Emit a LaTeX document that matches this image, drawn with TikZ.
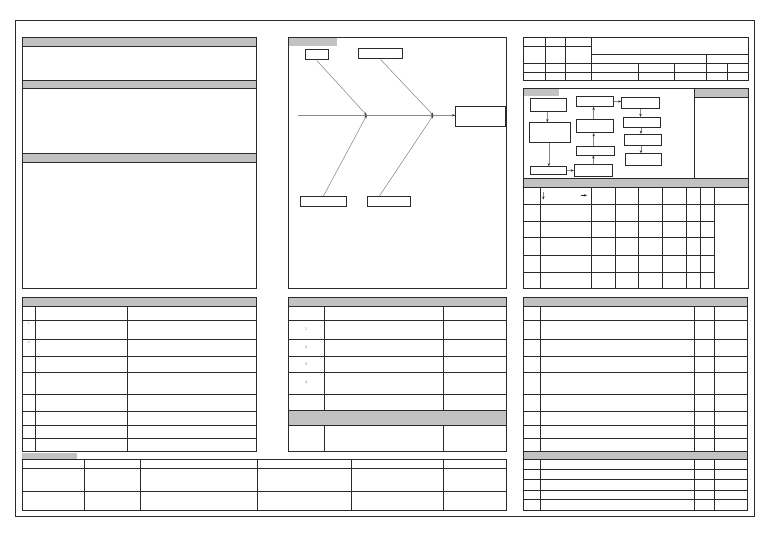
\documentclass[tikz,border=0pt]{standalone}
\usetikzlibrary{arrows.meta}
\definecolor{lin}{HTML}{2A2A2A}
\definecolor{hdrgray}{HTML}{C2C2C2}
\definecolor{fishline}{HTML}{8A8A8A}
\tikzset{
  frame/.style={draw=lin,line width=1pt},
  grid/.style={draw=lin,line width=0.85pt},
  hdr/.style={fill=hdrgray,draw=lin,line width=0.85pt},
  tab/.style={fill=hdrgray},
  fbox/.style={draw=lin,line width=1pt,inner sep=0pt,fill=white},
  fish/.style={draw=fishline,line width=0.55pt},
  tip/.style={-{Stealth[length=3pt,width=2.4pt,color=lin]}},
  num/.style={font=\fontsize{3.2}{3.2}\selectfont,text=gray,inner sep=0pt}
}
\newcommand{\bx}[5]{\node[fbox,minimum width={(#4-#2)*1pt},minimum height={(#5-#3)*1pt}] (#1) at ({(#2+#4)/2},{(#3+#5)/2}) {};}
\begin{document}
\begin{tikzpicture}[x=1pt,y=-1pt]
\useasboundingbox (0,0) rectangle (768,543);
\fill[white] (0,0) rectangle (768,543);
% outer frame
\draw[frame] (15.3,20.3) rectangle (754,516);

% ---------- left top panel ----------
\draw[hdr] (22.3,37.7) rectangle (256.7,46.7);
\draw[hdr] (22.3,80) rectangle (256.7,88.3);
\draw[hdr] (22.3,153.3) rectangle (256.7,162);
\draw[frame] (22.3,37.7) rectangle (256.7,288.3);

% ---------- fishbone panel ----------
\fill[tab] (288.3,37.3) rectangle (336.7,46);
\draw[frame] (288.3,37.3) rectangle (506,288.3);
\bx{tl}{305}{49.3}{328.7}{60}
\bx{tm}{358.7}{48.3}{402.3}{59}
\bx{bl}{300}{196.7}{346.7}{206.3}
\bx{bm}{367.7}{196.7}{410.3}{206.3}
\bx{eff}{455.7}{106.3}{505.3}{126.7}
\coordinate (s0) at (298.3,115.3);
\coordinate (j1) at (366.7,115.3);
\coordinate (j2) at (433.3,115.3);
\draw[fish,tip] (s0) -- (s0 -| eff.west);
\draw[fish,tip] (tl.south) -- (j1);
\draw[fish,tip] (bl.north) -- (j1);
\draw[fish,tip] (tm.south) -- (j2);
\draw[fish,tip] ([xshift=-9.7pt]bm.north) -- (j2);

% ---------- top right title table ----------
\draw[frame] (523.3,37.3) rectangle (748.3,80.3);
\draw[grid] (523.3,46.7) -- (591,46.7);
\draw[grid] (591,54.7) -- (748.3,54.7);
\draw[grid] (523.3,63) -- (748.3,63);
\draw[grid] (523.3,72) -- (748.3,72);
\foreach \x in {545.3,565,591} \draw[grid] (\x,37.3) -- (\x,80.3);
\foreach \x in {638.3,674.3,727} \draw[grid] (\x,63) -- (\x,80.3);
\draw[grid] (706.7,54.7) -- (706.7,80.3);

% ---------- process flow panel ----------
\fill[tab] (523.3,88.3) rectangle (558.7,96.3);
\draw[hdr] (694,88.3) rectangle (748.3,97.3);
\draw[frame] (523.3,88.3) rectangle (748.3,178.7);
\draw[grid] (694,88.3) -- (694,178.7);
\bx{A}{530}{98.3}{566.7}{111.3}
\bx{B}{529}{122.7}{570.7}{142.7}
\bx{C}{530}{166.7}{566.7}{174.3}
\bx{D}{574.3}{164.7}{612.3}{176}
\bx{E}{576.3}{146.7}{614}{155}
\bx{F}{576.3}{119.3}{613}{132.7}
\bx{G}{576.3}{96.7}{613}{106.3}
\bx{H}{621.7}{97.3}{659.3}{108.3}
\bx{I}{623}{117.3}{660.3}{127.7}
\bx{J}{624}{134.3}{661.3}{145.3}
\bx{K}{625}{153.7}{661.7}{165}
\draw[fish,tip] ([xshift=-1pt]A.south) -- ([xshift=-1pt]A.south |- B.north);
\draw[fish,tip] ([xshift=-1pt]B.south) -- ([xshift=-1pt]B.south |- C.north);
\draw[fish,tip] (C.east) -- (C.east -| D.west);
\draw[fish,tip] (D.north) -- (D.north |- E.south);
\draw[fish,tip] ([xshift=-1.5pt]E.north) -- ([xshift=-1.5pt]E.north |- F.south);
\draw[fish,tip] ([xshift=-1pt]F.north) -- ([xshift=-1pt]F.north |- G.south);
\draw[fish,tip] (G.east) -- (G.east -| H.west);
\draw[fish,tip] (H.south) -- (H.south |- I.north);
\draw[fish,tip] ([xshift=-0.7pt]I.south) -- ([xshift=-0.7pt]I.south |- J.north);
\draw[fish,tip] ([xshift=-1.7pt]J.south) -- ([xshift=-1.7pt]J.south |- K.north);

% ---------- right middle table ----------
\draw[hdr] (523.3,178.7) rectangle (748.3,187);
\draw[frame] (523.3,178.7) rectangle (748.3,288.3);
\draw[grid] (523.3,204.3) -- (748.3,204.3);
\foreach \y in {221,237.7,255,272.3} \draw[grid] (523.3,\y) -- (714,\y);
\foreach \x in {540.3,591,615,638.3,662.7,686.7,700,714} \draw[grid] (\x,187) -- (\x,288.3);
\coordinate (da) at (543.3,191.7); \coordinate (db) at (543.3,199.5);
\coordinate (ra) at (580.5,195.3); \coordinate (rb) at (587,195.3);
\draw[fish,tip] (da) -- (db);
\draw[draw=lin,line width=0.5pt,tip] (ra) -- (rb);

% ---------- lower left table ----------
\draw[hdr] (22.3,297) rectangle (256.7,306.7);
\draw[frame] (22.3,297) rectangle (256.7,451.3);
\foreach \y in {320.3,339.3,356.7,372.7,394,411.3,425.3,438.3} \draw[grid] (22.3,\y) -- (256.7,\y);
\foreach \x in {35.7,127.3} \draw[grid] (\x,306.7) -- (\x,451.3);
\node[num] (n1) at (28.7,323) {1};
\node[num] (n2) at (28.7,342) {2};

% ---------- bottom table ----------
\fill[tab] (22.3,452.5) rectangle (76.7,459.3);
\draw[frame] (22.3,459.3) rectangle (506.3,510.3);
\foreach \y in {468.7,491} \draw[grid] (22.3,\y) -- (506.3,\y);
\foreach \x in {84.3,140.7,257.7,351.7,443.7} \draw[grid] (\x,459.3) -- (\x,510.3);

% ---------- lower middle table ----------
\draw[hdr] (288,297) rectangle (506,306.7);
\draw[hdr] (288,410.7) rectangle (506,425);
\draw[frame] (288,297) rectangle (506,451.7);
\foreach \y in {320.3,339.3,356.7,372.7,394} \draw[grid] (288,\y) -- (506,\y);
\foreach \x in {324.3,443.3} {\draw[grid] (\x,306.7) -- (\x,410.7); \draw[grid] (\x,425) -- (\x,451.7);}
\node[num,font=\fontsize{4.2}{4.2}\selectfont] (m1) at (306,329.5) {1};
\node[num,font=\fontsize{4.2}{4.2}\selectfont] (m2) at (306,347.5) {2};
\node[num,font=\fontsize{4.2}{4.2}\selectfont] (m3) at (306,364.5) {3};
\node[num,font=\fontsize{4.2}{4.2}\selectfont] (m4) at (306,382.5) {4};

% ---------- lower right table ----------
\draw[hdr] (523,297) rectangle (747.7,306.7);
\draw[hdr] (523,451.7) rectangle (747.7,459);
\draw[frame] (523,297) rectangle (747.7,510);
\foreach \y in {320.3,339.3,356.7,372.7,394,411.3,425.3,438.3,469,479.7,490.7,499} \draw[grid] (523,\y) -- (747.7,\y);
\foreach \x in {540.3,694,714.3} {\draw[grid] (\x,306.7) -- (\x,451.7); \draw[grid] (\x,459) -- (\x,510);}
\end{tikzpicture}
\end{document}
